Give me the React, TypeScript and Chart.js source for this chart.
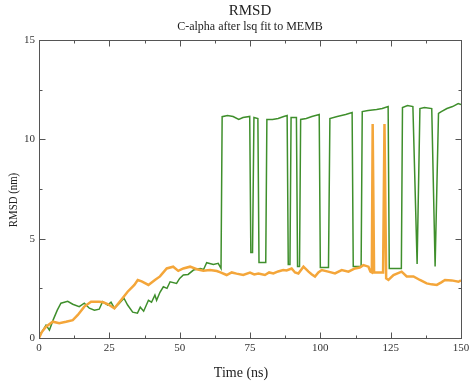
import React, { useEffect, useRef } from 'react';
import { Chart, registerables } from 'chart.js';

Chart.register(...registerables);

// ---- data ----
const greenTime = [
  0, 1, 2.5, 3.7, 5, 6.5, 7.8, 10.2, 12, 14.3, 16.1, 17.9, 19.7, 21.4, 22.6, 24.4, 25.6, 26.8, 28.6, 30.2,
  31.5, 33.3, 35, 36, 37.2, 38.9, 40, 41.2, 41.8, 43, 44.2, 45.5, 46.6, 48.9, 50, 51.3, 53, 54.9, 57.3, 58.5,
  59.6, 62, 63.7, 64.7, 65.1, 67, 69, 71, 72.5, 74.9, 75.3, 75.9, 76.4, 77.8, 78.2, 80.6, 81, 83, 85, 87,
  88.2, 88.6, 89.2, 89.6, 91.5, 91.9, 92.6, 93, 95, 97, 99.6, 100, 102.9, 103.4, 106, 109, 111.3, 111.7, 114.5, 114.9,
  117, 120, 122, 124.1, 124.5, 128.8, 129.2, 131, 132.9, 134.4, 135.4, 137, 139.6, 140.8, 142, 143, 145, 147, 149, 150,
];
const greenRmsd = [
  0.15, 0.3, 0.65, 0.4, 0.9, 1.4, 1.75, 1.85, 1.7, 1.58, 1.75, 1.5, 1.4, 1.45, 1.83, 1.66, 1.8, 1.5, 1.75, 2.0,
  1.66, 1.3, 1.25, 1.55, 1.35, 1.9, 1.8, 2.16, 1.9, 2.3, 2.58, 2.5, 2.83, 2.75, 3.0, 3.17, 3.2, 3.42, 3.5, 3.45,
  3.79, 3.7, 3.76, 3.5, 11.14, 11.2, 11.15, 11.0, 11.1, 11.15, 4.3, 4.3, 11.1, 11.05, 3.8, 3.8, 11.0, 11.0, 11.05, 11.15,
  11.2, 3.7, 3.7, 11.1, 11.1, 3.6, 3.6, 11.0, 11.05, 11.15, 11.25, 3.55, 3.55, 11.05, 11.15, 11.25, 11.35, 3.6, 3.6, 11.4,
  11.45, 11.5, 11.55, 11.65, 3.5, 3.5, 11.6, 11.7, 11.65, 3.72, 11.55, 11.6, 11.55, 3.6, 11.3, 11.4, 11.55, 11.65, 11.8, 11.75,
];
const orangeTime = [
  0, 1, 2.5, 4.9, 7.2, 9.6, 12, 13.8, 16.1, 18.5, 21.4, 22.8, 24.4, 26.8, 29.2, 31.5, 33.9, 35.1, 36.5, 38.9,
  41.2, 43, 45.4, 47.7, 49.5, 51.3, 53.7, 56.1, 58.4, 60.8, 63.2, 64.5, 66.7, 68.5, 70.2, 72.6, 75, 76.5, 78, 80.3,
  81.8, 83.3, 85, 86.8, 88, 89.8, 91, 92.2, 94, 95.8, 97, 98.1, 99.3, 100.5, 102.8, 105.2, 107.6, 110, 112.3, 114,
  115.3, 117.1, 117.8, 118.3, 118.6, 119.1, 120.5, 122.3, 122.8, 123.4, 124.2, 126, 128.9, 130.7, 133.1, 135.4, 137.8, 139.5, 141.4, 143,
  144.3, 146.7, 149.1, 150,
];
const orangeRmsd = [
  0, 0.3, 0.57, 0.82, 0.75, 0.82, 0.9, 1.16, 1.58, 1.83, 1.83, 1.8, 1.71, 1.49, 1.91, 2.33, 2.67, 2.92, 2.85, 2.67,
  2.92, 3.1, 3.5, 3.59, 3.38, 3.5, 3.59, 3.46, 3.39, 3.42, 3.37, 3.3, 3.17, 3.3, 3.24, 3.17, 3.29, 3.2, 3.24, 3.17,
  3.3, 3.25, 3.35, 3.42, 3.4, 3.5, 3.3, 3.25, 3.59, 3.34, 3.2, 3.09, 3.3, 3.42, 3.34, 3.25, 3.42, 3.34, 3.5, 3.55,
  3.67, 3.59, 3.34, 3.3, 10.77, 3.3, 3.3, 3.3, 10.77, 3.0, 2.92, 3.17, 3.34, 3.1, 3.1, 2.92, 2.75, 2.7, 2.67, 2.8,
  2.92, 2.9, 2.83, 2.9,
];

const xMajorTicks = [0, 25, 50, 75, 100, 125, 150];
const xMinorTicks = [12.5, 37.5, 62.5, 87.5, 112.5, 137.5];
const yMajorTicks = [0, 5, 10, 15];
const yMinorTicks = [2.5, 7.5, 12.5];

const titleText = 'RMSD';
const subtitleText = 'C-alpha after lsq fit to MEMB';
const xAxisTitle = 'Time (ns)';
const yAxisTitle = 'RMSD (nm)';

const FONT = "'Liberation Serif', 'Times New Roman', serif";

const framePlugin = {
  id: 'gracePlot',
  afterDatasetsDraw(chart: any) {
    const { ctx, chartArea, scales } = chart;
    const { left, right, top, bottom } = chartArea;
    const x = scales.x;
    const y = scales.y;
    ctx.save();
    ctx.strokeStyle = '#555';
    ctx.lineWidth = 1;
    const L = Math.round(left) + 0.5;
    const R = Math.round(right) + 0.5;
    const T = Math.round(top) + 0.5;
    const B = Math.round(bottom) + 0.5;
    ctx.strokeRect(L, T, R - L, B - T);
    ctx.beginPath();
    const xt = (vals: number[], len: number) => {
      vals.forEach((v) => {
        const px = Math.round(x.getPixelForValue(v)) + 0.5;
        ctx.moveTo(px, B);
        ctx.lineTo(px, B - len);
        ctx.moveTo(px, T);
        ctx.lineTo(px, T + len);
      });
    };
    const yt = (vals: number[], len: number) => {
      vals.forEach((v) => {
        const py = Math.round(y.getPixelForValue(v)) + 0.5;
        ctx.moveTo(L, py);
        ctx.lineTo(L + len, py);
        ctx.moveTo(R, py);
        ctx.lineTo(R - len, py);
      });
    };
    xt(xMajorTicks, 6);
    xt(xMinorTicks, 3);
    yt(yMajorTicks, 6);
    yt(yMinorTicks, 3);
    ctx.stroke();

    ctx.fillStyle = '#222';
    ctx.textAlign = 'center';
    ctx.textBaseline = 'middle';
    ctx.font = `14px ${FONT}`;
    ctx.fillText(xAxisTitle, (left + right) / 2 - 9, 373);
    ctx.font = `13px ${FONT}`;
    ctx.translate(14, (top + bottom) / 2 + 11);
    ctx.rotate(-Math.PI / 2);
    ctx.scale(0.83, 1);
    ctx.fillText(yAxisTitle, 0, 0);
    ctx.restore();
  },
};

export default function App() {
  const ref = useRef<HTMLCanvasElement | null>(null);

  useEffect(() => {
    document.body.style.margin = '0';
    const canvas = ref.current;
    if (!canvas) return;
    const chart = new Chart(canvas, {
      type: 'line',
      data: {
        datasets: [
          {
            label: 'orange',
            data: orangeTime.map((t, i) => ({ x: t, y: orangeRmsd[i] })),
            borderColor: '#f4a63a',
            borderWidth: 2.5,
            pointRadius: 0,
            tension: 0,
            order: 0,
          },
          {
            label: 'green',
            data: greenTime.map((t, i) => ({ x: t, y: greenRmsd[i] })),
            borderColor: '#3f8f2c',
            borderWidth: 1.5,
            pointRadius: 0,
            tension: 0,
            order: 1,
          },
        ],
      },
      options: {
        responsive: false,
        animation: false,
        layout: { padding: { top: 2, left: 0, right: 13, bottom: 0 } },
        plugins: {
          legend: { display: false },
          tooltip: { enabled: false },
          title: {
            display: true,
            text: titleText,
            fullSize: false,
            color: '#222',
            font: { family: FONT, size: 15, weight: 'normal' },
            padding: { top: 0, bottom: 0 },
          },
          subtitle: {
            display: true,
            text: subtitleText,
            fullSize: false,
            color: '#222',
            font: { family: FONT, size: 12, weight: 'normal' },
            padding: { top: 0, bottom: 5.6 },
          },
        },
        scales: {
          x: {
            type: 'linear',
            min: 0,
            max: 150,
            grid: { display: false, drawTicks: false },
            border: { display: false },
            ticks: {
              stepSize: 25,
              padding: 4,
              color: '#333',
              font: { family: FONT, size: 11 },
              maxRotation: 0,
            },
            afterFit: (s: any) => {
              s.height = 49;
            },
          },
          y: {
            type: 'linear',
            min: 0,
            max: 15,
            grid: { display: false, drawTicks: false },
            border: { display: false },
            ticks: {
              stepSize: 5,
              padding: 4,
              color: '#333',
              font: { family: FONT, size: 11 },
            },
            afterFit: (s: any) => {
              s.width = 39;
            },
          },
        },
      },
      plugins: [framePlugin],
    });
    return () => chart.destroy();
  }, []);

  return <canvas ref={ref} width={474} height={387} style={{ display: 'block' }} />;
}
